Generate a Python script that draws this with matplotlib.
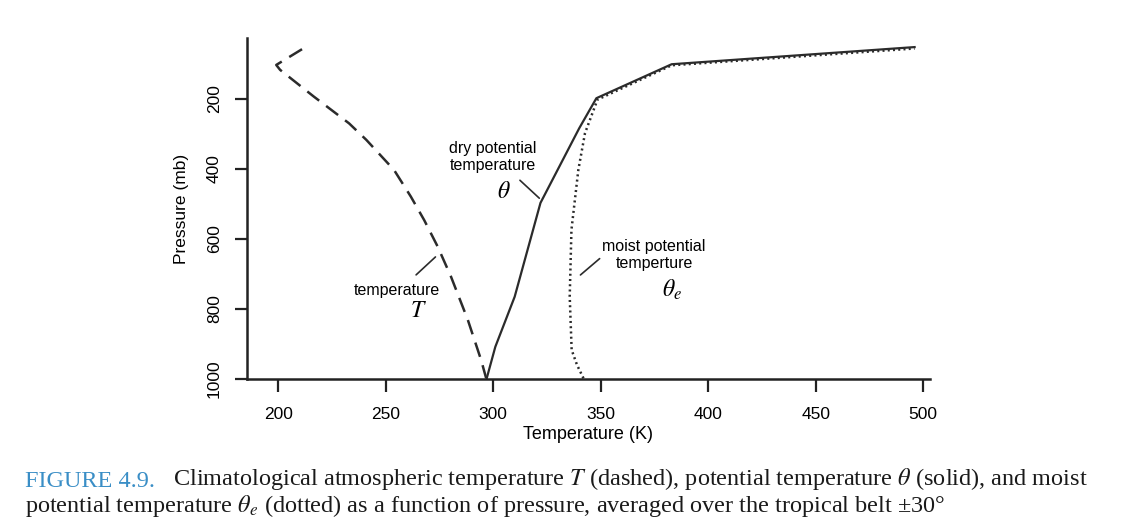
import matplotlib.pyplot as plt

plt.rcParams['font.family'] = ['Liberation Sans', 'DejaVu Sans']
plt.rcParams['mathtext.fontset'] = 'stix'

# temperature T (dashed)
temp_K = [211.1, 199.1, 200.9, 216.5, 233.0, 241.0, 253.9, 261.7, 267.9, 274.2, 280.4, 288.2, 294.4, 296.7]
temp_p = [58, 103, 117, 193, 270, 317, 403, 479, 546, 622, 708, 831, 946, 997]

# dry potential temperature theta (solid)
theta_K = [297, 301, 310, 322, 340, 348, 383, 496]
theta_p = [998, 908, 765, 497, 284, 198, 101, 52]

# moist potential temperature theta_e (dotted)
thetae_K = [342, 339, 336.5, 335.6, 336.4, 339.6, 342.7, 348.5, 383, 496]
thetae_p = [998, 960, 917, 765, 574, 403, 298, 202, 104, 56]

xticks = [200, 250, 300, 350, 400, 450, 500]
yticks = [200, 400, 600, 800, 1000]

fig = plt.figure(figsize=(11.34, 5.32), dpi=100)
ax = fig.add_axes([0.2178, 0.2876, 0.602, 0.641])

line_col = '#2b2b2b'
ax.plot(temp_K, temp_p, color=line_col, lw=1.8, dashes=(6, 3.5))
ax.plot(theta_K, theta_p, color=line_col, lw=1.6)
ax.plot(thetae_K, thetae_p, color=line_col, lw=1.8, ls=(0, (0.8, 1.3)))

ax.set_xlim(185.5, 503)
ax.set_ylim(1000, 26)
ax.set_xticks(xticks)
ax.set_yticks(yticks)
ax.tick_params(axis='x', length=9, width=1.6, pad=11, labelsize=12.5, color='#222222')
ax.tick_params(axis='y', length=9, width=1.6, pad=9, labelsize=12.5, color='#222222')
for lab in ax.get_yticklabels():
    lab.set_rotation(90)
    lab.set_va('center')
for s in ['top', 'right']:
    ax.spines[s].set_visible(False)
for s in ['left', 'bottom']:
    ax.spines[s].set_linewidth(1.8)
    ax.spines[s].set_color('#222222')

ax.set_xlabel('Temperature (K)', fontsize=13, labelpad=3)
ax.set_ylabel('Pressure (mb)', fontsize=12.5, labelpad=13)

# annotations
ax.text(255.1, 746, 'temperature', fontsize=11.5, ha='center', va='center')
ax.text(265.4, 806, '$T$', fontsize=17, ha='center', va='center')
ax.annotate('', xy=(274.1, 646), xytext=(263.2, 708),
            arrowprops=dict(arrowstyle='-', color=line_col, lw=1.2))

ax.text(300, 366, 'dry potential\ntemperature', fontsize=11.5, ha='center', va='center',
        linespacing=1.15)
ax.text(305.1, 466, r'$\theta$', fontsize=17, ha='center', va='center')
ax.annotate('', xy=(322.4, 489), xytext=(311.5, 427),
            arrowprops=dict(arrowstyle='-', color=line_col, lw=1.2))

ax.text(374.8, 646, 'moist potential\ntemperture', fontsize=11.5, ha='center', va='center',
        linespacing=1.15)
ax.text(383.2, 746, r'$\theta_e$', fontsize=17, ha='center', va='center')
ax.annotate('', xy=(339.6, 708), xytext=(350.5, 651),
            arrowprops=dict(arrowstyle='-', color=line_col, lw=1.2))

# caption
cap1 = fig.text(0.022, 0.0846, 'FIGURE 4.9.', color='#3a8ec6',
                fontsize=17.5, family='Liberation Serif', va='baseline')
ax.annotate('   Climatological atmospheric temperature $T$ (dashed), potential temperature '
            r'$\theta$ (solid), and moist',
            xy=(1, 0), xycoords=cap1, va='bottom', fontsize=17.5,
            family='Liberation Serif', color='#1a1a1a', annotation_clip=False)
fig.text(0.022, 0.0376, r'potential temperature $\theta_e$ (dotted) as a function of pressure, '
         'averaged over the tropical belt ±30°', fontsize=17.5,
         family='Liberation Serif', color='#1a1a1a', va='baseline')

fig.savefig('out.png', dpi=100)
